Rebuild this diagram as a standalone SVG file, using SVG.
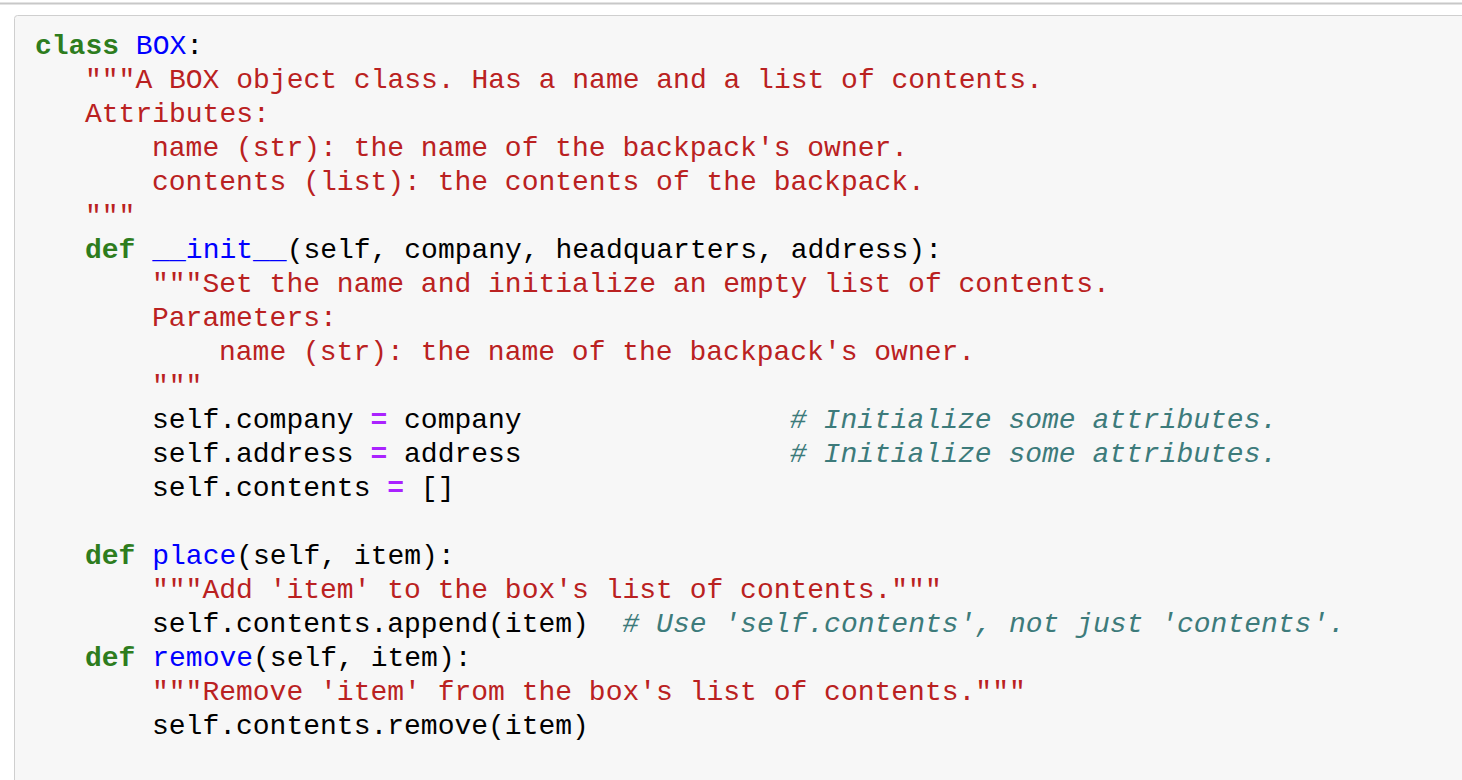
<svg xmlns="http://www.w3.org/2000/svg" width="1462" height="780" viewBox="0 0 1462 780">
<style>
text{font-family:"Liberation Mono","DejaVu Sans Mono",monospace;font-size:28px;fill:#000;white-space:pre}
.k{fill:#2e7d1e;font-weight:bold}
.s{fill:#ba2121}
.f{fill:#0000ff}
.o{fill:#aa22ff;font-weight:bold}
.c{fill:#3d7b7b;font-style:italic}
</style>
<rect x="0" y="0" width="1462" height="780" fill="#fff"/>
<line x1="0" y1="3.500" x2="1462" y2="3.500" stroke="#c8c8c8" stroke-width="2"/>
<rect x="14.500" y="15.500" width="1460" height="780" rx="3" fill="#f7f7f7" stroke="#cfcfcf"/>
<g xml:space="preserve">
<text x="35" y="54"><tspan class="k">class</tspan> <tspan class="f">BOX</tspan>:</text>
<text x="85" y="88" class="s">"""A BOX object class. Has a name and a list of contents.</text>
<text x="85" y="122" class="s">Attributes:</text>
<text x="152" y="156" class="s">name (str): the name of the backpack's owner.</text>
<text x="152" y="190" class="s">contents (list): the contents of the backpack.</text>
<text x="85" y="224" class="s">"""</text>
<text x="85" y="258"><tspan class="k">def</tspan> <tspan class="f">__init__</tspan>(self, company, headquarters, address):</text>
<text x="152" y="292" class="s">"""Set the name and initialize an empty list of contents.</text>
<text x="152" y="326" class="s">Parameters:</text>
<text x="219" y="360" class="s">name (str): the name of the backpack's owner.</text>
<text x="152" y="394" class="s">"""</text>
<text x="152" y="428">self.company <tspan class="o">=</tspan> company</text>
<text x="790" y="428" class="c"># Initialize some attributes.</text>
<text x="152" y="462">self.address <tspan class="o">=</tspan> address</text>
<text x="790" y="462" class="c"># Initialize some attributes.</text>
<text x="152" y="496">self.contents <tspan class="o">=</tspan> []</text>
<text x="85" y="564"><tspan class="k">def</tspan> <tspan class="f">place</tspan>(self, item):</text>
<text x="152" y="598" class="s">"""Add 'item' to the box's list of contents."""</text>
<text x="152" y="632">self.contents.append(item)  <tspan class="c"># Use 'self.contents', not just 'contents'.</tspan></text>
<text x="85" y="666"><tspan class="k">def</tspan> <tspan class="f">remove</tspan>(self, item):</text>
<text x="152" y="700" class="s">"""Remove 'item' from the box's list of contents."""</text>
<text x="152" y="734">self.contents.remove(item)</text>
</g>
</svg>
